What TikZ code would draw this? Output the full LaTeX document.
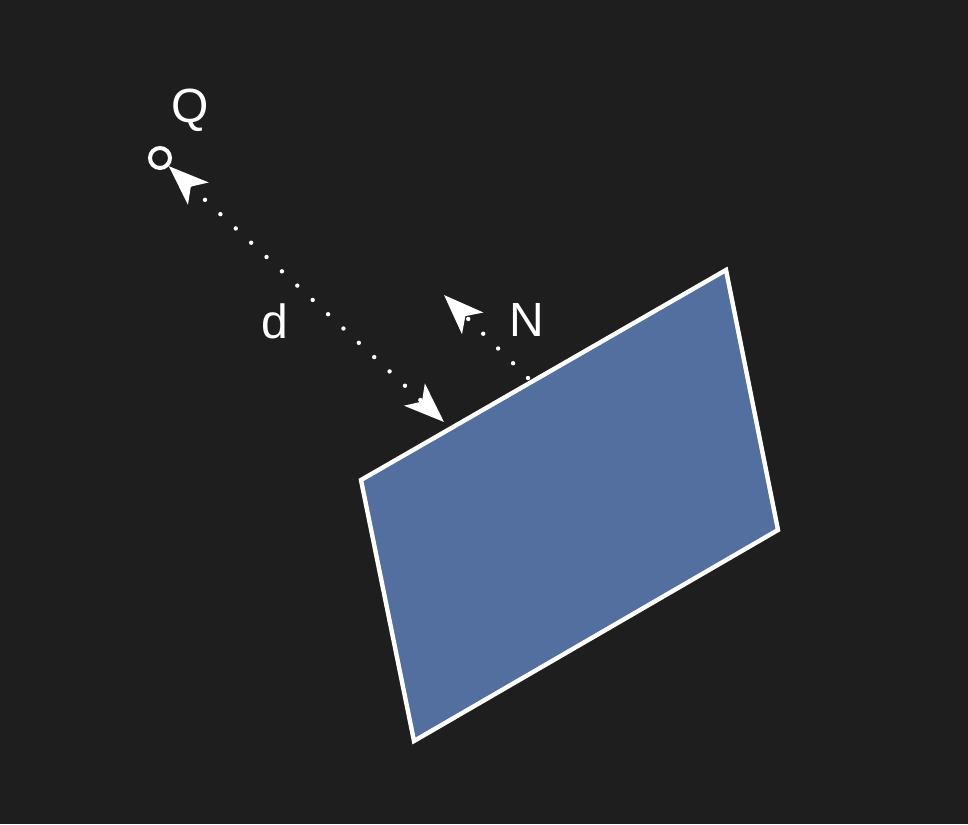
\documentclass[tikz,border=0pt]{standalone}
\usepackage{fontspec}
\setmainfont{Liberation Sans}
\usetikzlibrary{arrows.meta}
\definecolor{bgdark}{HTML}{1E1E1E}
\definecolor{planeblue}{HTML}{536FA0}
\tikzset{>={Stealth[length=20pt,width=15pt,inset=5pt]}}
\tikzset{dots/.style={white,line width=2.2pt,line cap=round,dash pattern=on 0pt off 10.5pt}}

\begin{document}
\begin{tikzpicture}[x=0.5pt,y=-0.5pt]
\fill [bgdark] (0,0) rectangle (968,824);
\useasboundingbox (0,0) rectangle (968,824);
\draw [white,line width=2.2pt,fill=planeblue,line join=miter] (361,480)--(726,270)--(778,530)--(414,741)--cycle;
\node [circle,draw=white,line width=2pt,fill=bgdark,minimum size=10pt,inner sep=0pt] (q) at (160,158) {};
\coordinate (foot) at (444,422);
\coordinate (base) at (528,378);
\coordinate (tip) at (444,295);
\draw [dots,<->] (q) -- (foot);
\draw [dots,->] (base) -- (tip);
\node [white,font=\fontsize{24}{28}\selectfont] (qlabel) at (190,110) {Q};
\node [white,font=\fontsize{24}{28}\selectfont] (dlabel) at (275,321) {d};
\node [white,font=\fontsize{24}{28}\selectfont] (nlabel) at (527,320) {N};
\end{tikzpicture}
\end{document}
